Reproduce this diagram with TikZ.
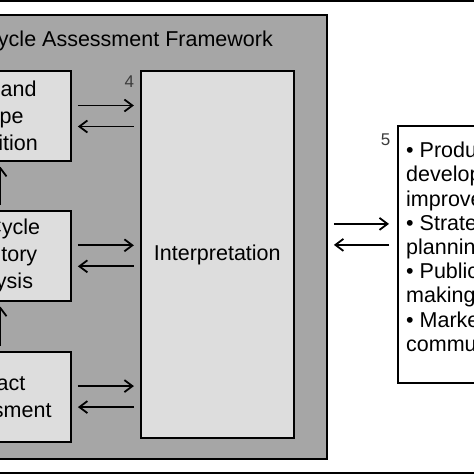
\documentclass[tikz,border=0pt]{standalone}
\usepackage{fontspec}
\setmainfont{Liberation Sans}
\usetikzlibrary{arrows.meta, positioning}
\definecolor{frameGray}{RGB}{166,166,166}
\definecolor{boxGray}{RGB}{221,221,221}
\definecolor{numGray}{RGB}{60,60,60}

\begin{document}
\begin{tikzpicture}[x=1pt, y=-1pt,
    phase/.style={draw=black, line width=1.8pt, fill=boxGray, minimum width=156pt, minimum height=90pt,
        align=center, inner sep=0pt, font=\fontsize{21.5}{27}\selectfont},
    flow/.style={line width=1.8pt, -{Straight Barb[length=8pt, width=12pt]}},
    num/.style={text=numGray, inner sep=0pt, font=\fontsize{17}{17}\selectfont}]
    \useasboundingbox (0,0) rectangle (474,474);
    \clip (0,0) rectangle (474,474);

    % 外框线
    \draw[line width=2.4pt] (-100,1.2) rectangle (600,472.8);

    % 框架背景与标题
    \node[draw=black, line width=1.8pt, fill=frameGray, minimum width=439pt, minimum height=444pt] (frame) at (107.5,237) {};
    \node[anchor=base east, inner sep=0pt, font=\fontsize{21.5}{27}\selectfont] (title) at (273,46.5) {Life Cycle Assessment Framework};

    % 三个阶段
    \node[phase] (goal) at (-7,116) {Goal and\\Scope\\Definition};
    \node[phase, below=48pt of goal] (lci) {Life Cycle\\Inventory\\Analysis};
    \node[phase, below=49pt of lci] (lcia) {Impact\\Assessment};

    % 解释阶段
    \node[phase, minimum width=153pt, minimum height=367pt, anchor=north west] (interp) at ([xshift=68pt]goal.north east) {Interpretation};
    \node[num] (n4) at ([xshift=-10.5pt, yshift=-12pt]interp.north west) {4};

    % 阶段与解释之间的箭头
    \foreach \p in {goal, lci, lcia} {
        \draw[flow, shorten <=6pt, shorten >=6pt] ([yshift=10.5pt]\p.east) -- ([yshift=10.5pt]\p.east -| interp.west);
        \draw[flow, shorten <=6pt, shorten >=6pt] ([yshift=-10.5pt]\p.east -| interp.west) -- ([yshift=-10.5pt]\p.east);
    }
    \draw[flow, shorten <=5pt, shorten >=5pt] ([xshift=7.5pt]lci.north) -- ([xshift=7.5pt]goal.south);
    \draw[flow, shorten <=5pt, shorten >=5pt] ([xshift=7.5pt]lcia.north) -- ([xshift=7.5pt]lci.south);

    % 直接应用
    \node[draw=black, line width=1.8pt, fill=white, minimum width=150pt, minimum height=257pt, anchor=north west] (apps) at (397,125) {};
    \node[anchor=north west, align=left, inner sep=0pt, font=\fontsize{21.5}{24.2}\selectfont] (appsText) at ([xshift=9pt, yshift=-17pt]apps.north west)
        {• Product\\development and\\improvement\\• Strategic\\planning\\• Public policy\\making\\• Marketing\\communication};
    \node[num] (n5) at ([xshift=-11.5pt, yshift=-15pt]apps.north west) {5};

    \draw[flow, shorten <=6pt, shorten >=8pt] ([yshift=30.5pt]apps.west -| frame.east) -- ([yshift=30.5pt]apps.west);
    \draw[flow, shorten <=8pt, shorten >=6pt] ([yshift=9.5pt]apps.west) -- ([yshift=9.5pt]apps.west -| frame.east);
\end{tikzpicture}
\end{document}
